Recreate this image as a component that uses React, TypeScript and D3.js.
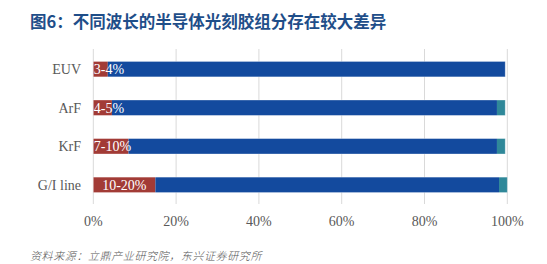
import React from "react";
import * as d3 from "d3";

const categories = ["EUV", "ArF", "KrF", "G/I line"];
const redValues = [3.5, 4.5, 8.5, 15];
const blueValues = [96, 93, 89, 83];
const tealValues = [0, 2, 2, 2];
const segLabels = ["3-4%", "4-5%", "7-10%", "10-20%"];
const xTicks = [0, 20, 40, 60, 80, 100];

const W = 547;
const H = 264;
const colors = ["#a23b36", "#134a9e", "#2f8899"];

export default function App() {
  const x = d3.scaleLinear().domain([0, 100]).range([93.3, 507.3]);
  const y = d3
    .scaleBand<string>()
    .domain(categories)
    .range([49.5, 204.5])
    .paddingInner(0.6)
    .paddingOuter(0.31);

  const stackData = categories.map((c, i) => ({
    cat: c,
    red: redValues[i],
    blue: blueValues[i],
    teal: tealValues[i],
  }));
  const series = d3.stack<any>().keys(["red", "blue", "teal"])(stackData);

  const serif = "'Liberation Serif', 'Times New Roman', serif";

  return (
    <svg
      width={W}
      height={H}
      style={{ position: "fixed", left: 0, top: 0, background: "#fff" }}
    >
      <text
        x={30}
        y={28}
        fill="#1f4e89"
        fontSize={16.5}
        fontWeight="bold"
        fontFamily="'Noto Sans CJK SC', sans-serif"
      >
        图6：不同波长的半导体光刻胶组分存在较大差异
      </text>

      {xTicks.map((t) => (
        <line
          key={t}
          x1={x(t)}
          x2={x(t)}
          y1={49}
          y2={204}
          stroke="#d9d9d9"
          strokeWidth={1}
        />
      ))}

      {series.map((s, si) =>
        s.map((d, i) => {
          const w = x(d[1]) - x(d[0]);
          if (w <= 0) return null;
          return (
            <rect
              key={si + "-" + i}
              x={x(d[0])}
              y={y(categories[i])}
              width={w}
              height={y.bandwidth()}
              fill={colors[si]}
            />
          );
        })
      )}

      {series[series.length - 1].map((d, i) => (
        <rect
          key={"outline-" + i}
          x={x(0)}
          y={y(categories[i])}
          width={x(d[1]) - x(0)}
          height={y.bandwidth()}
          fill="none"
          stroke="#ffffff"
          strokeOpacity={0.4}
          strokeWidth={0.8}
        />
      ))}

      {categories.map((c, i) => {
        const x0 = x(0);
        const x1 = x(redValues[i]);
        const estW = segLabels[i].length * 7.6;
        const narrow = x1 - x0 < estW;
        return (
          <text
            key={c}
            x={narrow ? x0 + 0.5 : (x0 + x1) / 2}
            y={(y(c) as number) + y.bandwidth() / 2}
            dy="0.35em"
            textAnchor={narrow ? "start" : "middle"}
            fill="#ffffff"
            fontSize={14}
            fontFamily={serif}
          >
            {segLabels[i]}
          </text>
        );
      })}

      {categories.map((c) => (
        <text
          key={c}
          x={81}
          y={(y(c) as number) + y.bandwidth() / 2}
          dy="0.35em"
          textAnchor="end"
          fill="#595959"
          fontSize={14}
          fontFamily={serif}
        >
          {c}
        </text>
      ))}

      {xTicks.map((t) => (
        <text
          key={t}
          x={x(t)}
          y={226}
          textAnchor="middle"
          fill="#595959"
          fontSize={14}
          fontFamily={serif}
        >
          {t + "%"}
        </text>
      ))}

      <text
        x={30}
        y={260}
        fill="#555"
        fontSize={11}
        fontStyle="italic"
        fontFamily="'Noto Sans CJK SC', sans-serif"
        fontWeight={300}
        letterSpacing={0.6}
      >
        资料来源：立鼎产业研究院，东兴证券研究所
      </text>
    </svg>
  );
}
